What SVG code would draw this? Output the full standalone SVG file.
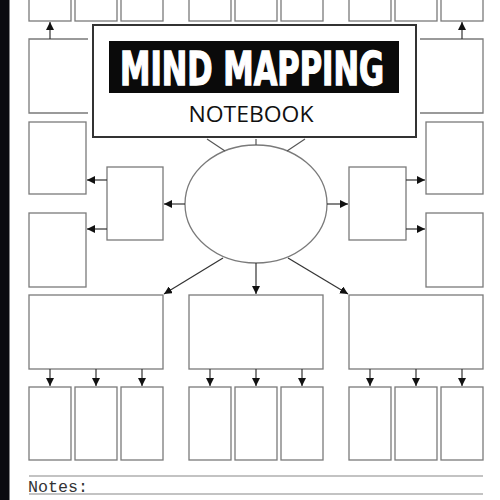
<svg xmlns="http://www.w3.org/2000/svg" width="500" height="500" viewBox="0 0 500 500">
<defs>
<marker id="ah" viewBox="0 0 10 10" refX="10" refY="5" markerWidth="8" markerHeight="8" markerUnits="userSpaceOnUse" orient="auto"><path d="M0,0 L10,5 L0,10 Z" fill="#111"/></marker>
<style>
.b{fill:#fff;stroke:#7a7a7a;stroke-width:1.3}
.o{fill:none;stroke:#7a7a7a;stroke-width:1.3}
.c line{stroke:#333;stroke-width:1.2;marker-end:url(#ah)}
.c line.n{marker-end:none;stroke:#555}
.nl{stroke:#888;stroke-width:1.2}
</style>
</defs>
<rect width="500" height="500" fill="#fff"/>
<rect x="0" y="0" width="9.5" height="500" fill="#0a0a0f"/>

<g id="top-row">
<rect id="t1" class="b" x="29" y="-2" width="42" height="23"/>
<rect id="t2" class="b" x="75" y="-2" width="42" height="23"/>
<rect id="t3" class="b" x="121" y="-2" width="42" height="23"/>
<rect id="t4" class="b" x="189" y="-2" width="42" height="23"/>
<rect id="t5" class="b" x="235" y="-2" width="42" height="23"/>
<rect id="t6" class="b" x="281" y="-2" width="42" height="23"/>
<rect id="t7" class="b" x="349" y="-2" width="42" height="23"/>
<rect id="t8" class="b" x="395" y="-2" width="42" height="23"/>
<rect id="t9" class="b" x="441" y="-2" width="42" height="23"/>
</g>

<g id="upper-left"><path class="o" d="M88,39 H29 V113 H88"/></g>
<g id="upper-right"><path class="o" d="M420,39 H483 V113 H420"/></g>

<g id="left-a"><rect class="b" x="29" y="122" width="57" height="72"/></g>
<g id="left-b"><rect class="b" x="29" y="213" width="57" height="74"/></g>
<g id="mid-left"><rect class="b" x="107" y="167" width="56" height="73"/></g>
<g id="right-a"><rect class="b" x="426" y="122" width="57" height="72"/></g>
<g id="right-b"><rect class="b" x="426" y="213" width="57" height="74"/></g>
<g id="mid-right"><rect class="b" x="349" y="167" width="57" height="73"/></g>

<g id="center"><ellipse class="b" cx="256" cy="204" rx="71" ry="59"/></g>

<g id="big-left"><rect class="b" x="29" y="295" width="134" height="74"/></g>
<g id="big-center"><rect class="b" x="189" y="295" width="134" height="74"/></g>
<g id="big-right"><rect class="b" x="349" y="295" width="134" height="74"/></g>

<g id="bottom-row">
<rect id="s1" class="b" x="29" y="387" width="42" height="73"/>
<rect id="s2" class="b" x="75" y="387" width="42" height="73"/>
<rect id="s3" class="b" x="121" y="387" width="42" height="73"/>
<rect id="s4" class="b" x="189" y="387" width="42" height="73"/>
<rect id="s5" class="b" x="235" y="387" width="42" height="73"/>
<rect id="s6" class="b" x="281" y="387" width="42" height="73"/>
<rect id="s7" class="b" x="349" y="387" width="42" height="73"/>
<rect id="s8" class="b" x="395" y="387" width="42" height="73"/>
<rect id="s9" class="b" x="441" y="387" width="42" height="73"/>
</g>

<g class="c" id="connectors">
<line x1="50" y1="39" x2="50" y2="22"/>
<line x1="462" y1="39" x2="462" y2="22"/>
<line x1="185" y1="204" x2="164" y2="204"/>
<line x1="107" y1="180" x2="87" y2="180"/>
<line x1="107" y1="229" x2="87" y2="229"/>
<line x1="327" y1="204" x2="348" y2="204"/>
<line x1="406" y1="180" x2="425" y2="180"/>
<line x1="406" y1="229" x2="425" y2="229"/>
<line x1="223" y1="258" x2="164" y2="294"/>
<line x1="256" y1="263" x2="256" y2="294"/>
<line x1="288" y1="258" x2="348" y2="294"/>
<line x1="50" y1="369" x2="50" y2="386"/>
<line x1="96" y1="369" x2="96" y2="386"/>
<line x1="142" y1="369" x2="142" y2="386"/>
<line x1="210" y1="369" x2="210" y2="386"/>
<line x1="256" y1="369" x2="256" y2="386"/>
<line x1="302" y1="369" x2="302" y2="386"/>
<line x1="370" y1="369" x2="370" y2="386"/>
<line x1="416" y1="369" x2="416" y2="386"/>
<line x1="462" y1="369" x2="462" y2="386"/>
<line class="n" x1="207" y1="139" x2="225" y2="151"/>
<line class="n" x1="256" y1="139" x2="256" y2="145"/>
<line class="n" x1="305" y1="139" x2="287" y2="151"/>
</g>

<g id="title">
<rect x="93" y="25" width="323" height="112" fill="#fff" stroke="#333" stroke-width="2"/>
<rect x="109" y="41" width="290" height="52" fill="#0a0a0a"/>
<text x="252" y="84.5" text-anchor="middle" font-family="'Liberation Sans Narrow','DejaVu Sans Condensed','Liberation Sans',sans-serif" font-weight="bold" font-size="46" fill="#fff" stroke="#fff" stroke-width="1.4" textLength="264" lengthAdjust="spacingAndGlyphs">MIND MAPPING</text>
<text x="251" y="122" text-anchor="middle" font-family="'Open Sans','Liberation Sans',sans-serif" font-size="22" fill="#111" textLength="125" lengthAdjust="spacingAndGlyphs">NOTEBOOK</text>
</g>

<g id="notes">
<line class="nl" x1="29" y1="476" x2="483" y2="476"/>
<line class="nl" x1="29" y1="494" x2="483" y2="494"/>
<text x="28" y="492" font-family="'Liberation Mono','DejaVu Sans Mono',monospace" font-size="16.5" fill="#333" textLength="60" lengthAdjust="spacingAndGlyphs">Notes:</text>
</g>
</svg>
